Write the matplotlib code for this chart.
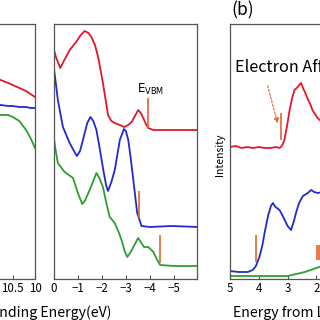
import numpy as np
import matplotlib
matplotlib.use("Agg")
import matplotlib.pyplot as plt

plt.rcParams['font.family'] = ['Noto Sans CJK JP', 'DejaVu Sans']

# ----------------------------------------------------------------------
# Datos (unidades arbitrarias de intensidad)
# ----------------------------------------------------------------------

# Panel izquierdo (energía de enlace alta)
p1_e = [11.5, 11.2, 10.9, 10.77, 10.6, 10.5, 10.35, 10.2, 10.1, 10.0]
p1_red = [215, 208, 202, 199, 196, 194, 191, 188, 185, 182]
p1_blue = [176, 175, 174, 174, 173, 173, 172, 172, 171, 171]
p1_green = [168, 166, 165, 164, 164, 162, 158, 149, 141, 131]

# Panel central (banda de valencia)
p2_red_e = [0, -0.1, -0.28, -0.45, -0.67, -0.94, -1.1, -1.29, -1.45, -1.57, -1.72,
            -1.85, -2.05, -2.26, -2.4, -2.54, -2.75, -2.93, -3.1, -3.24, -3.4,
            -3.51, -3.62, -3.72, -3.85, -3.93, -4.14, -5.0, -6.0]
p2_red = [231, 222, 211, 219, 229, 237, 243, 248, 246, 242, 234,
          222, 196, 164, 158, 156, 154, 152, 154, 157, 164,
          169, 166, 161, 154, 151, 149, 149, 149]

p2_blue_e = [0, -0.1, -0.18, -0.39, -0.67, -0.85, -0.97, -1.1, -1.22, -1.4, -1.53,
             -1.65, -1.78, -1.92, -2.05, -2.18, -2.26, -2.4, -2.54, -2.75, -2.92,
             -3.0, -3.1, -3.2, -3.31, -3.47, -3.65, -4.0, -4.9, -6.0]
p2_blue = [214, 195, 179, 152, 136, 128, 123, 128, 139, 156, 162,
           158, 149, 130, 111, 94, 88, 97, 109, 139, 150,
           148, 139, 121, 99, 66, 53, 52, 53, 52]

p2_green_e = [0, -0.08, -0.18, -0.46, -0.81, -1.01, -1.19, -1.3, -1.5, -1.78, -1.9,
              -2.05, -2.2, -2.33, -2.54, -2.7, -2.82, -2.95, -3.06, -3.2, -3.31,
              -3.51, -3.62, -3.75, -3.93, -4.14, -4.3, -4.42, -5.0, -6.0]
p2_green = [144, 130, 116, 107, 101, 86, 75, 78, 89, 106, 101,
            92, 75, 62, 56, 47, 39, 28, 22, 27, 32,
            41, 37, 32, 32, 27, 19, 14, 13, 13]

vbm_e = [-3.93, -3.54, -4.42]
vbm_lo = [151, 61, 16]
vbm_hi = [181, 88, 44]

# Panel (b) (banda de conducción)
p3_red_e = [5.0, 4.8, 4.6, 4.4, 4.2, 4.0, 3.8, 3.6, 3.4, 3.28, 3.2, 3.11, 3.02,
            2.93, 2.85, 2.76, 2.65, 2.57, 2.53, 2.48, 2.4, 2.3, 2.2, 2.14, 2.05,
            1.96, 1.8]
p3_red = [132, 133, 131, 132, 131, 132, 131, 131, 132, 131, 133, 139, 153,
          169, 180, 189, 192, 195, 196, 192, 187, 180, 174, 169, 165,
          161, 157]

p3_blue_e = [5.0, 4.7, 4.5, 4.38, 4.21, 4.1, 3.98, 3.88, 3.8, 3.68, 3.58, 3.51,
             3.42, 3.28, 3.15, 3.0, 2.88, 2.78, 2.7, 2.6, 2.47, 2.41, 2.3, 2.18,
             2.08, 1.95, 1.8]
p3_blue = [8, 7, 7, 7, 9, 13, 22, 33, 46, 63, 73, 76,
           72, 69, 62, 53, 49, 58, 67, 76, 83, 84, 86, 89,
           87, 86, 87]

p3_green_e = [5.0, 3.5, 3.0, 2.7, 2.4, 2.1, 1.9, 1.7]
p3_green = [3, 3, 3, 5, 7, 10, 12, 15]

ea_e = [3.22, 4.09]
ea_lo = [139, 17]
ea_hi = [166, 44]
ea_box_e = [2.03, 1.8]
ea_box_lo = 19
ea_box_hi = 34

c_red = '#e3172b'
c_blue = '#1f2bd0'
c_green = '#2f9e2f'
c_mark = '#e0652e'

# ----------------------------------------------------------------------
# Figura
# ----------------------------------------------------------------------
fig = plt.figure(figsize=(3.2, 3.2), dpi=100)
W, H = 320.0, 320.0


def caja(x0, x1, y0=24, y1=279):
    return [x0 / W, 1 - y1 / H, (x1 - x0) / W, (y1 - y0) / H]


ax1 = fig.add_axes(caja(-32, 35))
ax2 = fig.add_axes(caja(53.5, 197))
ax3 = fig.add_axes(caja(230, 374))

for ax in (ax1, ax2, ax3):
    ax.set_ylim(0, 255)
    ax.set_yticks([])
    ax.tick_params(axis='x', direction='in', length=3, labelsize=8.3, pad=2.5,
                   color='#555555')
    for s in ax.spines.values():
        s.set_color('#555555')
        s.set_linewidth(0.9)

lw = 1.3

# Panel 1
ax1.plot(p1_e, p1_red, color=c_red, lw=lw)
ax1.plot(p1_e, p1_blue, color=c_blue, lw=lw)
ax1.plot(p1_e, p1_green, color=c_green, lw=lw)
ax1.set_xlim(11.5, 10)
ax1.set_xticks([11, 10.5, 10])
ax1.set_xticklabels(['11', '10.5', '10'])

# Panel 2
ax2.plot(p2_red_e, p2_red, color=c_red, lw=lw)
ax2.plot(p2_blue_e, p2_blue, color=c_blue, lw=lw)
ax2.plot(p2_green_e, p2_green, color=c_green, lw=lw)
ax2.vlines(vbm_e, vbm_lo, vbm_hi, color=c_mark, lw=1.2)
ax2.set_xlim(0, -5.95)
ax2.set_xticks([0, -1, -2, -3, -4, -5])
ax2.text(-3.48, 182, r'E$_{\mathrm{VBM}}$', fontsize=8.5, ha='left', va='bottom',
         family='DejaVu Sans')

# Panel 3
ax3.plot(p3_red_e, p3_red, color=c_red, lw=lw)
ax3.plot(p3_blue_e, p3_blue, color=c_blue, lw=lw)
ax3.plot(p3_green_e, p3_green, color=c_green, lw=lw)
ax3.vlines(ea_e, ea_lo, ea_hi, color=c_mark, lw=1.2)
ax3.fill_between(ea_box_e, ea_box_lo, ea_box_hi, color=c_mark, alpha=0.85, lw=0)
ax3.set_xlim(5, 0)
ax3.set_xticks([5, 4, 3, 2, 1, 0])
ax3.text(4.84, 212, 'Electron Affinity', fontsize=11.7, ha='left', va='center')
ax3.annotate('', xy=(3.32, 153), xytext=(3.72, 196),
             arrowprops=dict(arrowstyle='-|>', color=c_mark, lw=0.8,
                             linestyle=(0, (2, 1.5)), mutation_scale=7))

fig.text(220 / W, 1 - 155 / H, 'Intensity', rotation=90, fontsize=7.5,
         ha='center', va='center')
fig.text(243 / W, 1 - 10 / H, '(b)', fontsize=12.5, ha='center', va='center')
fig.text(111 / W, 1 - 313 / H, 'Binding Energy(eV)', fontsize=10.2,
         ha='right', va='center')
fig.text(233 / W, 1 - 313 / H, 'Energy from LUMO(eV)', fontsize=10.2,
         ha='left', va='center')

fig.savefig('out.png', dpi=100)
